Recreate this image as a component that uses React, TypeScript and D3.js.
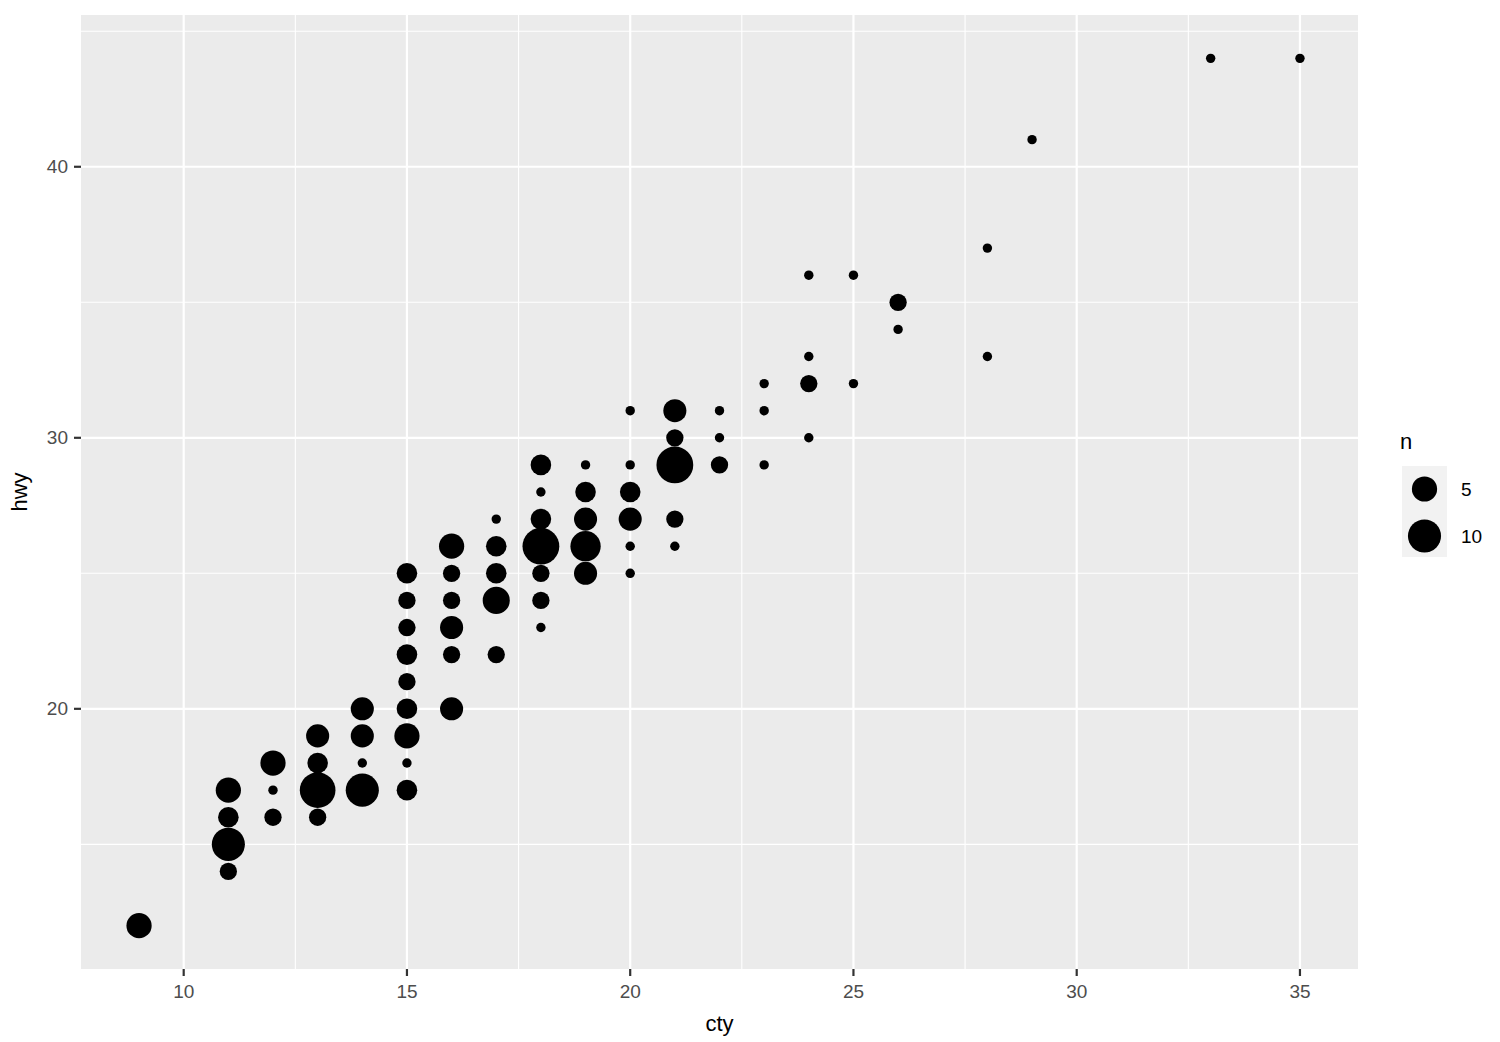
import React from "react";
import * as d3 from "d3";

// counts of cars per (cty, hwy) pair
const ctyValues = [
  9,
  11, 11, 11, 11,
  12, 12, 12,
  13, 13, 13, 13,
  14, 14, 14, 14,
  15, 15, 15, 15, 15, 15, 15, 15, 15,
  16, 16, 16, 16, 16, 16,
  17, 17, 17, 17, 17,
  18, 18, 18, 18, 18, 18, 18,
  19, 19, 19, 19, 19,
  20, 20, 20, 20, 20, 20,
  21, 21, 21, 21, 21,
  22, 22, 22,
  23, 23, 23,
  24, 24, 24, 24,
  25, 25,
  26, 26,
  28, 28,
  29,
  33, 35,
];
const hwyValues = [
  12,
  17, 16, 15, 14,
  18, 17, 16,
  19, 18, 17, 16,
  20, 19, 18, 17,
  25, 24, 23, 22, 21, 20, 19, 18, 17,
  26, 25, 24, 23, 22, 20,
  27, 26, 25, 24, 22,
  29, 28, 27, 26, 25, 24, 23,
  29, 28, 27, 26, 25,
  31, 29, 28, 27, 26, 25,
  31, 30, 29, 27, 26,
  31, 30, 29,
  32, 31, 29,
  36, 33, 32, 30,
  36, 32,
  35, 34,
  37, 33,
  41,
  44, 44,
];
const counts = [
  5,
  5, 3, 10, 2,
  5, 1, 2,
  4, 3, 12, 2,
  4, 4, 1, 10,
  3, 2, 2, 3, 2, 3, 5, 1, 3,
  5, 2, 2, 4, 2, 4,
  1, 3, 3, 6, 2,
  3, 1, 3, 13, 2, 2, 1,
  1, 3, 4, 8, 4,
  1, 1, 3, 4, 1, 1,
  4, 2, 13, 2, 1,
  1, 1, 2,
  1, 1, 1,
  1, 1, 2, 1,
  1, 1,
  2, 1,
  1, 1,
  1,
  1, 1,
];

const xTicks = [10, 15, 20, 25, 30, 35];
const yTicks = [20, 30, 40];
const legendBreaks = [5, 10];

const W = 1500;
const H = 1042;
const margin = { top: 15, right: 142, bottom: 73, left: 81 };
const font = "'Liberation Sans', Arial, Helvetica, sans-serif";

export default function App() {
  const points = ctyValues.map((c, i) => ({ cty: c, hwy: hwyValues[i], n: counts[i] }));

  // ggplot style 5% expansion on both axes
  const [x0, x1] = d3.extent(ctyValues) as [number, number];
  const [y0, y1] = d3.extent(hwyValues) as [number, number];
  const xPad = (x1 - x0) * 0.05;
  const yPad = (y1 - y0) * 0.05;

  const x = d3.scaleLinear().domain([x0 - xPad, x1 + xPad]).range([margin.left, W - margin.right]);
  const y = d3.scaleLinear().domain([y0 - yPad, y1 + yPad]).range([H - margin.bottom, margin.top]);

  // area scale: rescale n to [0,1], take sqrt, map to diameter
  const nRescale = d3.scaleLinear().domain(d3.extent(counts) as [number, number]).range([0, 1]);
  const diam = d3.scaleLinear().domain([0, 1]).range([9.4, 36.8]);
  const radius = (n: number) => diam(Math.sqrt(nRescale(n))) / 2;

  const [dx0, dx1] = x.domain();
  const [dy0, dy1] = y.domain();
  const xMinor = d3.range(7.5, 40, 5).filter((v) => v > dx0 && v < dx1);
  const yMinor = d3.range(15, 50, 10).filter((v) => v > dy0 && v < dy1);

  const panelX = margin.left;
  const panelY = margin.top;
  const panelW = W - margin.left - margin.right;
  const panelH = H - margin.top - margin.bottom;

  return (
    <div style={{ position: "absolute", left: 0, top: 0 }}>
      <svg width={W} height={H} style={{ display: "block", background: "#fff" }}>
        <rect x={panelX} y={panelY} width={panelW} height={panelH} fill="#EBEBEB" />

        {xMinor.map((v) => (
          <line key={"xm" + v} x1={x(v)} x2={x(v)} y1={panelY} y2={panelY + panelH} stroke="#fff" strokeWidth={1.1} />
        ))}
        {yMinor.map((v) => (
          <line key={"ym" + v} x1={panelX} x2={panelX + panelW} y1={y(v)} y2={y(v)} stroke="#fff" strokeWidth={1.1} />
        ))}
        {xTicks.map((v) => (
          <line key={"xM" + v} x1={x(v)} x2={x(v)} y1={panelY} y2={panelY + panelH} stroke="#fff" strokeWidth={2.2} />
        ))}
        {yTicks.map((v) => (
          <line key={"yM" + v} x1={panelX} x2={panelX + panelW} y1={y(v)} y2={y(v)} stroke="#fff" strokeWidth={2.2} />
        ))}

        {points.map((p, i) => (
          <circle key={i} cx={x(p.cty)} cy={y(p.hwy)} r={radius(p.n)} fill="#000" />
        ))}

        {/* x axis */}
        {xTicks.map((v) => (
          <g key={"xt" + v} transform={`translate(${x(v)},${panelY + panelH})`}>
            <line y1={0} y2={7} stroke="#333" strokeWidth={2.2} />
            <text y={29} textAnchor="middle" fontFamily={font} fontSize={19} fill="#4D4D4D">
              {v}
            </text>
          </g>
        ))}
        {/* y axis */}
        {yTicks.map((v) => (
          <g key={"yt" + v} transform={`translate(${panelX},${y(v)})`}>
            <line x1={-7} x2={0} stroke="#333" strokeWidth={2.2} />
            <text x={-13} dy="0.35em" textAnchor="end" fontFamily={font} fontSize={19} fill="#4D4D4D">
              {v}
            </text>
          </g>
        ))}

        <text x={panelX + panelW / 2} y={1031} textAnchor="middle" fontFamily={font} fontSize={22} fill="#000">
          cty
        </text>
        <text
          transform={`translate(27,${panelY + panelH / 2}) rotate(-90)`}
          textAnchor="middle"
          fontFamily={font}
          fontSize={22}
          fill="#000"
        >
          hwy
        </text>

        {/* legend */}
        <text x={1400} y={449} fontFamily={font} fontSize={22} fill="#000">
          n
        </text>
        <rect x={1402} y={466} width={45} height={91} fill="#F2F2F2" />
        {legendBreaks.map((b, i) => (
          <g key={"lg" + b}>
            <circle cx={1424.5} cy={489 + i * 47} r={radius(b)} fill="#000" />
            <text x={1461} y={489 + i * 47} dy="0.35em" fontFamily={font} fontSize={19} fill="#000">
              {b}
            </text>
          </g>
        ))}
      </svg>
    </div>
  );
}
